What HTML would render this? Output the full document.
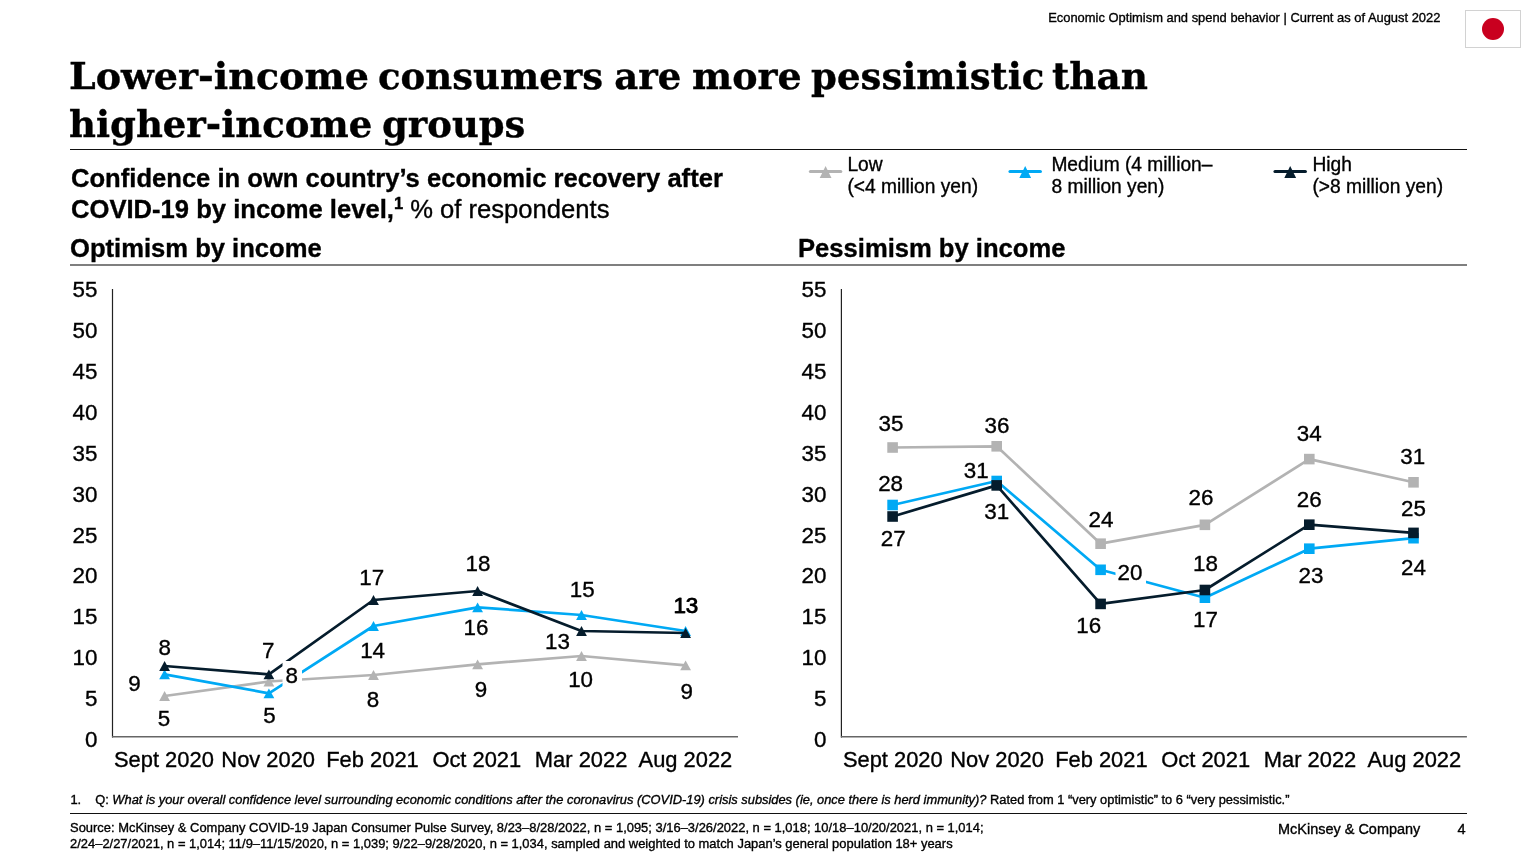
<!DOCTYPE html>
<html lang="en"><head><meta charset="utf-8"><title>Lower-income consumers are more pessimistic than higher-income groups</title>
<style>
html,body{margin:0;padding:0;background:#fff;}
body{width:1536px;height:864px;position:relative;overflow:hidden;font-family:"Liberation Sans",Arial,sans-serif;color:#000;}
.t{position:absolute;white-space:nowrap;margin:0;-webkit-text-stroke:0.35px #000;}
.title{font-family:"DejaVu Serif","Liberation Serif",serif;font-weight:bold;transform-origin:0 0;}
h1{margin:0;font-size:inherit;font-weight:inherit;}
.rule{position:absolute;}
svg{position:absolute;left:0;top:0;}
svg text{font-family:"Liberation Sans",Arial,sans-serif;font-size:22.4px;fill:#000;stroke:#000;stroke-width:0.35px;}
</style></head><body>
<header>
<div class="t " style="left:1048.2px;top:12px;font-size:12.92px;line-height:12.92px;transform-origin:0 10px;transform:scaleY(1.02);">Economic Optimism and spend behavior | Current as of August 2022</div>
<div class="rule" style="left:1465px;top:10px;width:56px;height:38px;border:1px solid #d2d2d2;box-sizing:border-box;background:#fff"></div>
<div class="rule" style="left:1482px;top:18px;width:22px;height:22px;border-radius:50%;background:#C9001F"></div>
</header>
<h1>
<span class="t title" style="left:68.97px;top:58.49px;font-size:37px;line-height:37px;transform:scaleX(1.0277)">Lower-income</span>
<span class="t title" style="left:377.75px;top:58.49px;font-size:37px;line-height:37px;transform:scaleX(1.0011)">consumers</span>
<span class="t title" style="left:614.25px;top:58.49px;font-size:37px;line-height:37px;transform:scaleX(1.0000)">are</span>
<span class="t title" style="left:691.72px;top:58.49px;font-size:37px;line-height:37px;transform:scaleX(1.0264)">more</span>
<span class="t title" style="left:811.00px;top:58.49px;font-size:37px;line-height:37px;transform:scaleX(1.0022)">pessimistic</span>
<span class="t title" style="left:1051.99px;top:58.49px;font-size:37px;line-height:37px;transform:scaleX(1.0108)">than</span>
<span class="t title" style="left:69.00px;top:106.49px;font-size:37px;line-height:37px;transform:scaleX(1.0008)">higher-income</span>
<span class="t title" style="left:381.50px;top:106.49px;font-size:37px;line-height:37px;transform:scaleX(0.9979)">groups</span>
</h1>
<main>
<div class="rule" style="left:70px;top:148.5px;width:1397px;height:1px;background:#111"></div>
<div class="t " style="left:71px;top:166px;font-size:25.6px;line-height:25.6px;transform-origin:0 21px;transform:scaleY(1.02);font-weight:bold;">Confidence in own country’s economic recovery after</div>
<div class="t " style="left:71px;top:197px;font-size:25.6px;line-height:25.6px;transform-origin:0 21px;transform:scaleY(1.02);"><b>COVID-19 by income level,<span style="font-size:16.6px;position:relative;top:-8.6px;line-height:0">1</span></b> % of respondents</div>
<div class="t " style="left:70px;top:236px;font-size:25.6px;line-height:25.6px;transform-origin:0 21px;transform:scaleY(1.02);font-weight:bold;">Optimism by income</div>
<div class="t " style="left:798px;top:236px;font-size:25.6px;line-height:25.6px;transform-origin:0 21px;transform:scaleY(1.02);font-weight:bold;">Pessimism by income</div>
<div class="rule" style="left:70px;top:264px;width:1397px;height:2px;background:#7f7f7f"></div>
<div class="legend">
<div class="t " style="left:847.4px;top:155px;font-size:19.2px;line-height:19.2px;transform-origin:0 16px;transform:scaleY(1.02);">Low</div>
<div class="t " style="left:847.4px;top:177px;font-size:19.2px;line-height:19.2px;transform-origin:0 16px;transform:scaleY(1.02);">(&lt;4 million yen)</div>
<div class="t " style="left:1051.4px;top:155px;font-size:19.2px;line-height:19.2px;transform-origin:0 16px;transform:scaleY(1.02);">Medium (4 million–</div>
<div class="t " style="left:1051.4px;top:177px;font-size:19.2px;line-height:19.2px;transform-origin:0 16px;transform:scaleY(1.02);">8 million yen)</div>
<div class="t " style="left:1312.4px;top:155px;font-size:19.2px;line-height:19.2px;transform-origin:0 16px;transform:scaleY(1.02);">High</div>
<div class="t " style="left:1312.4px;top:177px;font-size:19.2px;line-height:19.2px;transform-origin:0 16px;transform:scaleY(1.02);">(&gt;8 million yen)</div>
</div>
<svg width="1536" height="864" viewBox="0 0 1536 864">
<line x1="810.4" y1="171.5" x2="840.8" y2="171.5" stroke="#B3B3B3" stroke-width="3.1" stroke-linecap="round"/><path d="M825.6 166.0 L831.5 178.0 L819.7 178.0Z" fill="#B3B3B3"/>
<line x1="1010" y1="171.5" x2="1040.4" y2="171.5" stroke="#00A9F4" stroke-width="3.1" stroke-linecap="round"/><path d="M1025.2 166.0 L1031.1 178.0 L1019.3 178.0Z" fill="#00A9F4"/>
<line x1="1275" y1="171.5" x2="1305.4" y2="171.5" stroke="#051C2C" stroke-width="3.1" stroke-linecap="round"/><path d="M1290.2 166.0 L1296.1 178.0 L1284.3 178.0Z" fill="#051C2C"/>
<line x1="112.5" y1="289" x2="112.5" y2="737.5" stroke="#222" stroke-width="1.2"/><line x1="112.0" y1="736.8" x2="738.0" y2="736.8" stroke="#666" stroke-width="1.4"/>
<text transform="translate(97.5 297.1) scale(1 1.02)" text-anchor="end">55</text><text transform="translate(97.5 338.0) scale(1 1.02)" text-anchor="end">50</text><text transform="translate(97.5 378.9) scale(1 1.02)" text-anchor="end">45</text><text transform="translate(97.5 419.8) scale(1 1.02)" text-anchor="end">40</text><text transform="translate(97.5 460.7) scale(1 1.02)" text-anchor="end">35</text><text transform="translate(97.5 501.6) scale(1 1.02)" text-anchor="end">30</text><text transform="translate(97.5 542.5) scale(1 1.02)" text-anchor="end">25</text><text transform="translate(97.5 583.4) scale(1 1.02)" text-anchor="end">20</text><text transform="translate(97.5 624.3) scale(1 1.02)" text-anchor="end">15</text><text transform="translate(97.5 665.2) scale(1 1.02)" text-anchor="end">10</text><text transform="translate(97.5 706.1) scale(1 1.02)" text-anchor="end">5</text><text transform="translate(97.5 747.0) scale(1 1.02)" text-anchor="end">0</text>
<text transform="translate(163.9 766.7) scale(1 1.02)" text-anchor="middle" style="font-size:21.9px">Sept 2020</text><text transform="translate(268.2 766.7) scale(1 1.02)" text-anchor="middle" style="font-size:21.9px">Nov 2020</text><text transform="translate(372.5 766.7) scale(1 1.02)" text-anchor="middle" style="font-size:21.9px">Feb 2021</text><text transform="translate(476.8 766.7) scale(1 1.02)" text-anchor="middle" style="font-size:21.9px">Oct 2021</text><text transform="translate(581.1 766.7) scale(1 1.02)" text-anchor="middle" style="font-size:21.9px">Mar 2022</text><text transform="translate(685.4 766.7) scale(1 1.02)" text-anchor="middle" style="font-size:21.9px">Aug 2022</text>
<polyline points="164.6,696.0 268.9,681.5 373.5,675.0 477.6,664.3 581.5,656.0 685.6,665.3" fill="none" stroke="#B3B3B3" stroke-width="2.7" stroke-linejoin="round"/><path d="M164.6 691.1 L170.0 700.9 L159.2 700.9Z" fill="#B3B3B3"/><path d="M268.9 676.6 L274.3 686.4 L263.5 686.4Z" fill="#B3B3B3"/><path d="M373.5 670.1 L378.9 679.9 L368.1 679.9Z" fill="#B3B3B3"/><path d="M477.6 659.4 L483.0 669.2 L472.2 669.2Z" fill="#B3B3B3"/><path d="M581.5 651.1 L586.9 660.9 L576.1 660.9Z" fill="#B3B3B3"/><path d="M685.6 660.4 L691.0 670.2 L680.2 670.2Z" fill="#B3B3B3"/>
<polyline points="164.6,674.3 268.9,693.3 373.5,626.0 477.6,607.3 581.5,615.0 685.6,631.0" fill="none" stroke="#00A9F4" stroke-width="2.7" stroke-linejoin="round"/><path d="M164.6 669.4 L170.0 679.2 L159.2 679.2Z" fill="#00A9F4"/><path d="M268.9 688.4 L274.3 698.2 L263.5 698.2Z" fill="#00A9F4"/><path d="M373.5 621.1 L378.9 630.9 L368.1 630.9Z" fill="#00A9F4"/><path d="M477.6 602.4 L483.0 612.2 L472.2 612.2Z" fill="#00A9F4"/><path d="M581.5 610.1 L586.9 619.9 L576.1 619.9Z" fill="#00A9F4"/><path d="M685.6 626.1 L691.0 635.9 L680.2 635.9Z" fill="#00A9F4"/>
<polyline points="164.6,666.0 268.9,674.3 373.5,600.0 477.6,591.0 581.5,631.0 685.6,633.0" fill="none" stroke="#051C2C" stroke-width="2.7" stroke-linejoin="round"/><path d="M164.6 661.1 L170.0 670.9 L159.2 670.9Z" fill="#051C2C"/><path d="M268.9 669.4 L274.3 679.2 L263.5 679.2Z" fill="#051C2C"/><path d="M373.5 595.1 L378.9 604.9 L368.1 604.9Z" fill="#051C2C"/><path d="M477.6 586.1 L483.0 595.9 L472.2 595.9Z" fill="#051C2C"/><path d="M581.5 626.1 L586.9 635.9 L576.1 635.9Z" fill="#051C2C"/><path d="M685.6 628.1 L691.0 637.9 L680.2 637.9Z" fill="#051C2C"/>
<text transform="translate(164.6 655.2) scale(1 1.02)" text-anchor="middle">8</text><text transform="translate(134.4 691.2) scale(1 1.02)" text-anchor="middle">9</text><text transform="translate(164.0 726.4) scale(1 1.02)" text-anchor="middle">5</text><text transform="translate(268.3 657.8) scale(1 1.02)" text-anchor="middle">7</text><text transform="translate(269.5 722.7) scale(1 1.02)" text-anchor="middle">5</text><text transform="translate(371.7 585.3) scale(1 1.02)" text-anchor="middle">17</text><text transform="translate(372.6 658.3) scale(1 1.02)" text-anchor="middle">14</text><text transform="translate(373.0 706.7) scale(1 1.02)" text-anchor="middle">8</text><text transform="translate(478.0 571.0) scale(1 1.02)" text-anchor="middle">18</text><text transform="translate(476.0 635.0) scale(1 1.02)" text-anchor="middle">16</text><text transform="translate(481.0 697.0) scale(1 1.02)" text-anchor="middle">9</text><text transform="translate(582.3 597.0) scale(1 1.02)" text-anchor="middle">15</text><text transform="translate(557.5 649.0) scale(1 1.02)" text-anchor="middle">13</text><text transform="translate(580.6 687.0) scale(1 1.02)" text-anchor="middle">10</text><text transform="translate(685.6 613.0) scale(1 1.02)" text-anchor="middle">13</text><text transform="translate(686.1 613.0) scale(1 1.02)" text-anchor="middle">13</text><text transform="translate(686.8 699.0) scale(1 1.02)" text-anchor="middle">9</text><rect x="282.5" y="661" width="19.5" height="29" fill="#fff"/><text transform="translate(291.7 683.2) scale(1 1.02)" text-anchor="middle">8</text>
<line x1="841.4" y1="289" x2="841.4" y2="737.5" stroke="#222" stroke-width="1.2"/><line x1="840.9" y1="736.8" x2="1466.9" y2="736.8" stroke="#666" stroke-width="1.4"/>
<text transform="translate(826.4 297.1) scale(1 1.02)" text-anchor="end">55</text><text transform="translate(826.4 338.0) scale(1 1.02)" text-anchor="end">50</text><text transform="translate(826.4 378.9) scale(1 1.02)" text-anchor="end">45</text><text transform="translate(826.4 419.8) scale(1 1.02)" text-anchor="end">40</text><text transform="translate(826.4 460.7) scale(1 1.02)" text-anchor="end">35</text><text transform="translate(826.4 501.6) scale(1 1.02)" text-anchor="end">30</text><text transform="translate(826.4 542.5) scale(1 1.02)" text-anchor="end">25</text><text transform="translate(826.4 583.4) scale(1 1.02)" text-anchor="end">20</text><text transform="translate(826.4 624.3) scale(1 1.02)" text-anchor="end">15</text><text transform="translate(826.4 665.2) scale(1 1.02)" text-anchor="end">10</text><text transform="translate(826.4 706.1) scale(1 1.02)" text-anchor="end">5</text><text transform="translate(826.4 747.0) scale(1 1.02)" text-anchor="end">0</text>
<text transform="translate(892.8 766.7) scale(1 1.02)" text-anchor="middle" style="font-size:21.9px">Sept 2020</text><text transform="translate(997.1 766.7) scale(1 1.02)" text-anchor="middle" style="font-size:21.9px">Nov 2020</text><text transform="translate(1101.4 766.7) scale(1 1.02)" text-anchor="middle" style="font-size:21.9px">Feb 2021</text><text transform="translate(1205.7 766.7) scale(1 1.02)" text-anchor="middle" style="font-size:21.9px">Oct 2021</text><text transform="translate(1310.0 766.7) scale(1 1.02)" text-anchor="middle" style="font-size:21.9px">Mar 2022</text><text transform="translate(1414.3 766.7) scale(1 1.02)" text-anchor="middle" style="font-size:21.9px">Aug 2022</text>
<polyline points="892.6,447.5 996.7,446.3 1100.6,543.7 1204.9,524.8 1309.3,459.1 1413.5,482.3" fill="none" stroke="#B3B3B3" stroke-width="2.7" stroke-linejoin="round"/><rect x="887.3" y="442.2" width="10.6" height="10.6" fill="#B3B3B3"/><rect x="991.4" y="441.0" width="10.6" height="10.6" fill="#B3B3B3"/><rect x="1095.3" y="538.4" width="10.6" height="10.6" fill="#B3B3B3"/><rect x="1199.6" y="519.5" width="10.6" height="10.6" fill="#B3B3B3"/><rect x="1304.0" y="453.8" width="10.6" height="10.6" fill="#B3B3B3"/><rect x="1408.2" y="477.0" width="10.6" height="10.6" fill="#B3B3B3"/>
<polyline points="892.6,505.0 996.7,481.0 1100.6,569.8 1204.9,597.7 1309.3,548.7 1413.5,538.2" fill="none" stroke="#00A9F4" stroke-width="2.7" stroke-linejoin="round"/><rect x="887.3" y="499.7" width="10.6" height="10.6" fill="#00A9F4"/><rect x="991.4" y="475.7" width="10.6" height="10.6" fill="#00A9F4"/><rect x="1095.3" y="564.5" width="10.6" height="10.6" fill="#00A9F4"/><rect x="1199.6" y="592.4" width="10.6" height="10.6" fill="#00A9F4"/><rect x="1304.0" y="543.4" width="10.6" height="10.6" fill="#00A9F4"/><rect x="1408.2" y="532.9" width="10.6" height="10.6" fill="#00A9F4"/>
<rect x="1115.5" y="560" width="30.5" height="24" fill="#fff"/><text transform="translate(1129.9 579.8) scale(1 1.02)" text-anchor="middle">20</text><polyline points="892.6,516.5 996.7,485.4 1100.6,603.9 1204.9,590.0 1309.3,524.7 1413.5,532.9" fill="none" stroke="#051C2C" stroke-width="2.7" stroke-linejoin="round"/><rect x="887.3" y="511.2" width="10.6" height="10.6" fill="#051C2C"/><rect x="991.4" y="480.1" width="10.6" height="10.6" fill="#051C2C"/><rect x="1095.3" y="598.6" width="10.6" height="10.6" fill="#051C2C"/><rect x="1199.6" y="584.7" width="10.6" height="10.6" fill="#051C2C"/><rect x="1304.0" y="519.4" width="10.6" height="10.6" fill="#051C2C"/><rect x="1408.2" y="527.6" width="10.6" height="10.6" fill="#051C2C"/>
<text transform="translate(891.0 431.4) scale(1 1.02)" text-anchor="middle">35</text><text transform="translate(890.6 491.3) scale(1 1.02)" text-anchor="middle">28</text><text transform="translate(893.3 545.7) scale(1 1.02)" text-anchor="middle">27</text><text transform="translate(997.0 433.3) scale(1 1.02)" text-anchor="middle">36</text><text transform="translate(976.2 477.7) scale(1 1.02)" text-anchor="middle">31</text><text transform="translate(996.7 519.0) scale(1 1.02)" text-anchor="middle">31</text><text transform="translate(1100.9 526.8) scale(1 1.02)" text-anchor="middle">24</text><text transform="translate(1088.7 633.3) scale(1 1.02)" text-anchor="middle">16</text><text transform="translate(1201.0 505.2) scale(1 1.02)" text-anchor="middle">26</text><text transform="translate(1205.5 571.4) scale(1 1.02)" text-anchor="middle">18</text><text transform="translate(1205.5 626.5) scale(1 1.02)" text-anchor="middle">17</text><text transform="translate(1309.3 440.8) scale(1 1.02)" text-anchor="middle">34</text><text transform="translate(1309.3 507.0) scale(1 1.02)" text-anchor="middle">26</text><text transform="translate(1311.0 583.0) scale(1 1.02)" text-anchor="middle">23</text><text transform="translate(1412.8 464.2) scale(1 1.02)" text-anchor="middle">31</text><text transform="translate(1413.5 516.3) scale(1 1.02)" text-anchor="middle">25</text><text transform="translate(1413.5 574.7) scale(1 1.02)" text-anchor="middle">24</text>
</svg>
</main>
<footer>
<div class="t " style="left:70.4px;top:794px;font-size:12.95px;line-height:12.95px;transform-origin:0 10px;transform:scaleY(1.02);">1.</div>
<div class="t " style="left:95.2px;top:794px;font-size:12.87px;line-height:12.87px;transform-origin:0 10px;transform:scaleY(1.02);">Q: <i>What is your overall confidence level surrounding economic conditions after the coronavirus (COVID-19) crisis subsides (ie, once there is herd immunity)?</i> Rated from 1 “very optimistic” to 6 “very pessimistic.”</div>
<div class="rule" style="left:70px;top:812.8px;width:1397px;height:1px;background:#111"></div>
<div class="t " style="left:70px;top:822px;font-size:12.95px;line-height:12.95px;transform-origin:0 10px;transform:scaleY(1.02);">Source: McKinsey &amp; Company COVID-19 Japan Consumer Pulse Survey, 8/23–8/28/2022, n = 1,095; 3/16–3/26/2022, n = 1,018; 10/18–10/20/2021, n = 1,014;</div>
<div class="t " style="left:70px;top:838px;font-size:12.95px;line-height:12.95px;transform-origin:0 10px;transform:scaleY(1.02);">2/24–2/27/2021, n = 1,014; 11/9–11/15/2020, n = 1,039; 9/22–9/28/2020, n = 1,034, sampled and weighted to match Japan’s general population 18+ years</div>
<div class="t " style="left:1278px;top:822px;font-size:14.47px;line-height:14.47px;transform-origin:0 12px;transform:scaleY(1.02);">McKinsey &amp; Company</div>
<div class="t " style="left:1457.5px;top:822px;font-size:14.55px;line-height:14.55px;transform-origin:0 12px;transform:scaleY(1.02);">4</div>
</footer>
</body></html>
